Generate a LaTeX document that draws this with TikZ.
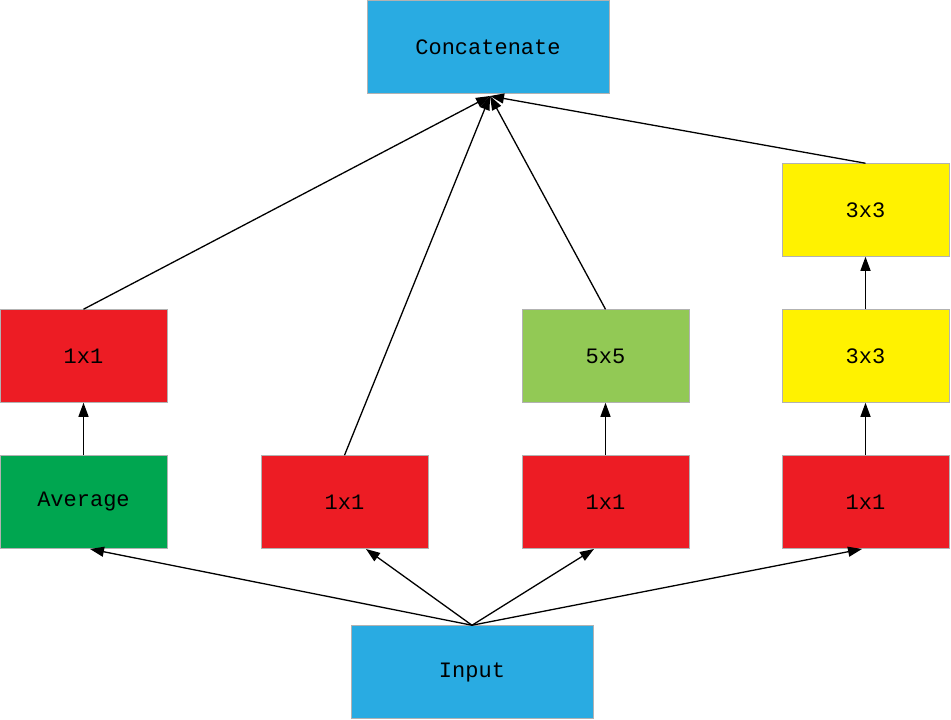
\documentclass[tikz,border=0pt]{standalone}
\usepackage{fontspec}
\setmainfont{Liberation Mono}
\usetikzlibrary{arrows.meta}
\definecolor{cblue}{HTML}{29ABE2}
\definecolor{cred}{HTML}{ED1C24}
\definecolor{cgreen}{HTML}{00A650}
\definecolor{clgreen}{HTML}{92C955}
\definecolor{cyellow}{HTML}{FFF200}
\begin{document}
\begin{tikzpicture}[x=1pt,y=-1pt,
  box/.style={draw=gray!60,line width=0.5pt,minimum width=167pt,minimum height=93pt,inner sep=0pt,font=\fontsize{22}{26}\selectfont},
  wbox/.style={box,minimum width=242pt},
  arr/.style={-{Triangle[length=14pt,width=10pt]},line width=1.3pt}]
\useasboundingbox (0,0) rectangle (951,720);
\node[wbox,fill=cblue] (cat) at (488,47) {Concatenate};
\node[wbox,fill=cblue] (in) at (472,672) {Input};
\node[box,fill=cgreen] (avg) at (83.5,502) {Average};
\node[box,fill=cred] (p1) at (83.5,356) {1x1};
\node[box,fill=cred] (b1) at (344.5,502) {1x1};
\node[box,fill=cred] (c1) at (605.5,502) {1x1};
\node[box,fill=clgreen] (c5) at (605.5,356) {5x5};
\node[box,fill=cred] (d1) at (865.5,502) {1x1};
\node[box,fill=cyellow] (d3a) at (865.5,356) {3x3};
\node[box,fill=cyellow] (d3b) at (865.5,210) {3x3};
\coordinate (tip) at (490,96);
\draw[arr] (in.north) -- (90,549);
\draw[arr] (in.north) -- (366,549);
\draw[arr] (in.north) -- (594,549);
\draw[arr] (in.north) -- (862,549);
\draw[arr] (avg) -- (p1);
\draw[arr] (c1) -- (c5);
\draw[arr] (d1) -- (d3a);
\draw[arr] (d3a) -- (d3b);
\draw[arr] (p1.north) -- (tip);
\draw[arr] (b1.north) -- (tip);
\draw[arr] (c5.north) -- (tip);
\draw[arr] (d3b.north) -- (tip);
\end{tikzpicture}
\end{document}
